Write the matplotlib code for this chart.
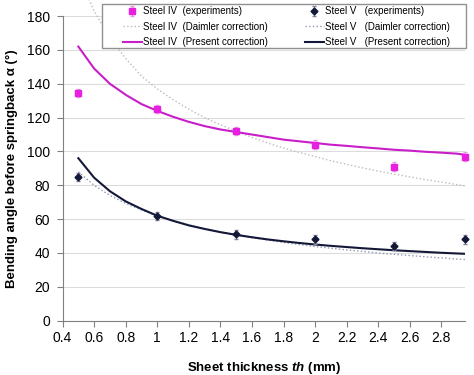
import numpy as np
import matplotlib.pyplot as plt
from matplotlib.patches import Rectangle

plt.rcParams['font.family'] = ['Liberation Sans', 'DejaVu Sans']
plt.rcParams['mathtext.fontset'] = 'custom'
plt.rcParams['mathtext.rm'] = 'Liberation Sans'
plt.rcParams['mathtext.it'] = 'Liberation Sans:italic'
plt.rcParams['mathtext.bf'] = 'Liberation Sans:bold'
plt.rcParams['mathtext.bfit'] = 'Liberation Sans:bold:italic'

# experiments
th_exp = [0.5, 1.0, 1.5, 2.0, 2.5, 2.95]
iv_exp = [134.5, 125, 112, 104, 91, 97]
v_exp = [85, 62, 51, 48, 44, 48]
err = 2.5

# model curves
th_fit = [0.5, 0.6, 0.7, 0.8, 0.9, 1.0, 1.1, 1.2, 1.3, 1.4, 1.5, 1.6, 1.7,
          1.8, 1.9, 2.0, 2.1, 2.2, 2.3, 2.4, 2.5, 2.6, 2.7, 2.8, 2.9, 2.95]
iv_present = [162, 149, 140, 133.5, 128, 124, 120.5, 117.5, 115, 113, 111.5,
              110, 108.5, 107, 106, 105, 104, 103.3, 102.5, 101.8, 101, 100.5,
              99.8, 99.3, 98.7, 98]
iv_daimler = [205, 183, 167, 155, 144.5, 137, 130.6, 125, 120, 115.8, 112,
              108.3, 105, 102, 99.4, 97, 94.5, 92.4, 90.3, 88.4, 86.6, 85,
              83.4, 81.9, 80.4, 79.7]
v_present = [96, 84.5, 76.5, 70.5, 66, 62, 59, 56.3, 54.2, 52.3, 50.7, 49.3,
             48, 46.9, 45.9, 45, 44.2, 43.5, 42.8, 42.2, 41.6, 41.1, 40.6,
             40.1, 39.7, 39.5]
v_daimler = [88, 80, 74, 69.3, 65.4, 62, 59.1, 56.6, 54.4, 52.4, 50.6, 49,
             47.6, 46.2, 45, 43.8, 42.8, 41.8, 40.9, 40, 39.2, 38.5, 37.7,
             37.1, 36.4, 36.1]

magenta = '#E81EE0'
mag_line = '#C81EC8'
navy = '#141838'

fig = plt.figure(figsize=(4.74, 3.75), dpi=100)
ax = fig.add_axes([0.132, 0.145, 0.849, 0.812])

h1 = ax.errorbar(th_exp, iv_exp, yerr=err, fmt='s', color=magenta, ms=5,
                 ecolor='#E0A0E0', elinewidth=0.8, capsize=1.5, zorder=5,
                 clip_on=False)
h4 = ax.errorbar(th_exp, v_exp, yerr=err, fmt='D', color=navy, ms=3.5,
                 ecolor='#8080A0', elinewidth=0.8, capsize=1.5, zorder=5,
                 clip_on=False)
h2, = ax.plot(th_fit, iv_daimler, ':', color='#C0B8C0', lw=1, clip_on=False)
h5, = ax.plot(th_fit, v_daimler, ':', color='#9098B0', lw=1)
h3, = ax.plot(th_fit, iv_present, '-', color=mag_line, lw=1.5)
h6, = ax.plot(th_fit, v_present, '-', color=navy, lw=1.5)

ax.set_xlim(0.4, 2.95)
ax.set_ylim(0, 180)
ax.set_xticks(np.arange(0.4, 2.81, 0.2))
ax.set_xticklabels(['0.4', '0.6', '0.8', '1', '1.2', '1.4', '1.6', '1.8',
                    '2', '2.2', '2.4', '2.6', '2.8'])
ax.set_yticks(range(0, 181, 20))
ax.grid(axis='y', color='#DCDCDC', lw=0.8)
ax.set_axisbelow(True)
for s in ['top', 'right']:
    ax.spines[s].set_visible(False)
for s in ['left', 'bottom']:
    ax.spines[s].set_color('#808080')
ax.tick_params(axis='both', labelsize=10, color='#808080', length=4)
ax.tick_params(axis='y', pad=5)

ax.set_xlabel(r'Sheet thickness $\bfit{th}$ (mm)', fontsize=9.5,
              fontweight='bold', labelpad=11)
ax.set_ylabel('Bending angle before springback α (°)', fontsize=9.5,
              fontweight='bold', labelpad=6)

# legend box
fig.patches.append(Rectangle((102 / 474, 1 - 48 / 375), 364 / 474, 44 / 375,
                             transform=fig.transFigure, facecolor='white',
                             edgecolor='#909090', lw=1, zorder=10))

labels = ['Steel IV  (experiments)', 'Steel IV  (Daimler correction)',
          'Steel IV  (Present correction)', 'Steel V   (experiments)',
          'Steel V   (Daimler correction)', 'Steel V   (Present correction)']
leg = fig.legend([h1, h2, h3, h4, h5, h6], labels, ncol=2, fontsize=7,
                 loc='upper left', bbox_to_anchor=(123 / 474, 1 - 6.5 / 375),
                 frameon=False, handlelength=1.95, handletextpad=0.1,
                 columnspacing=3.8, labelspacing=0.55, borderpad=0,
                 borderaxespad=0)
leg.set_zorder(11)

fig.savefig('out.png', dpi=100)
